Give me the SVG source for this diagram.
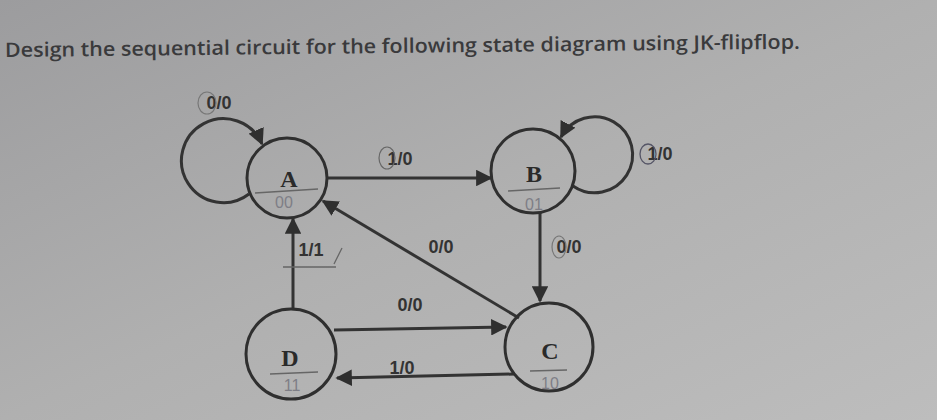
<svg xmlns="http://www.w3.org/2000/svg" width="937" height="420" viewBox="0 0 937 420">
<defs>
<linearGradient id="bg" x1="0" y1="0" x2="1" y2="1">
<stop offset="0" stop-color="#9c9c9e"/>
<stop offset="0.5" stop-color="#b0b0b0"/>
<stop offset="1" stop-color="#bdbdbd"/>
</linearGradient>
<marker id="ah" viewBox="0 0 10 10" refX="9" refY="5" markerWidth="5.5" markerHeight="5.5" orient="auto" markerUnits="strokeWidth">
<path d="M0,0 L10,5 L0,10 Z" fill="#2f2f2f"/>
</marker>
<style>
.st{fill:none;stroke:#2f2f2f;stroke-width:3}
.ed{fill:none;stroke:#333;stroke-width:3;marker-end:url(#ah)}
.nm{font-family:"Liberation Serif",serif;font-weight:bold;font-size:24px;fill:#2a2a2a;text-anchor:middle}
.lb{font-family:"Liberation Sans",Arial,sans-serif;font-weight:bold;font-size:18px;fill:#333;text-anchor:middle}
.hw{font-family:"Liberation Sans",sans-serif;font-size:16px;fill:#7e7e86;text-anchor:middle}
.hl{stroke:#666;stroke-width:1.3}
</style>
</defs>
<rect width="937" height="420" fill="url(#bg)"/>
<text x="5" y="57" transform="rotate(-0.6 5 57)" font-family="'Open Sans','Liberation Sans',sans-serif" font-size="20" font-weight="600" fill="#3a3a3c" textLength="795" lengthAdjust="spacingAndGlyphs">Design the sequential circuit for the following state diagram using JK-flipflop.</text>
<g id="connectors">
<path class="ed" d="M249,194 A42,42 0 1 1 262,144"/>
<path class="ed" d="M573,186 A38,38 0 1 0 561,137"/>
<line class="ed" x1="328" y1="178" x2="491" y2="178"/>
<line class="ed" x1="540" y1="213" x2="540" y2="301"/>
<line class="ed" x1="519" y1="318" x2="323" y2="201"/>
<line class="ed" x1="293" y1="309" x2="293" y2="219"/>
<line class="ed" x1="334" y1="330" x2="506" y2="327"/>
<line class="ed" x1="515" y1="374" x2="337" y2="378"/>
<text class="lb" x="219" y="109">0/0</text>
<text class="lb" x="660" y="160">1/0</text>
<text class="lb" x="400" y="165">1/0</text>
<text class="lb" x="569" y="253">0/0</text>
<text class="lb" x="441" y="253">0/0</text>
<text class="lb" x="311" y="256">1/1</text>
<text class="lb" x="410" y="311">0/0</text>
<text class="lb" x="402" y="374">1/0</text>
<ellipse cx="207" cy="103" rx="9" ry="11" fill="none" stroke="#777" stroke-width="1.2"/>
<ellipse cx="387" cy="158" rx="8" ry="11" fill="none" stroke="#666" stroke-width="1.2"/>
<ellipse cx="559" cy="247" rx="7" ry="11" fill="none" stroke="#777" stroke-width="1.2"/>
<ellipse cx="648" cy="154" rx="8" ry="10" fill="none" stroke="#556" stroke-width="1.3"/>
<path d="M283,267 L336,267 M334,264 L342,248" class="hl" fill="none"/>
</g>
<g id="A">
<circle class="st" cx="287" cy="178" r="40"/>
<text class="nm" x="289" y="187">A</text>
<line class="hl" x1="255" y1="193" x2="318" y2="189"/>
<text class="hw" x="284" y="208">00</text>
</g>
<g id="B">
<circle class="st" cx="533" cy="171" r="42"/>
<text class="nm" x="534" y="182">B</text>
<line class="hl" x1="508" y1="191" x2="560" y2="188"/>
<text class="hw" x="534" y="210">01</text>
</g>
<g id="C">
<circle class="st" cx="549" cy="347" r="44"/>
<text class="nm" x="550" y="359">C</text>
<line class="hl" x1="530" y1="371" x2="567" y2="370"/>
<text class="hw" x="550" y="389">10</text>
</g>
<g id="D">
<circle class="st" cx="291" cy="354" r="45"/>
<text class="nm" x="290" y="366">D</text>
<line class="hl" x1="270" y1="374" x2="318" y2="372"/>
<text class="hw" x="292" y="391">11</text>
</g>
</svg>
